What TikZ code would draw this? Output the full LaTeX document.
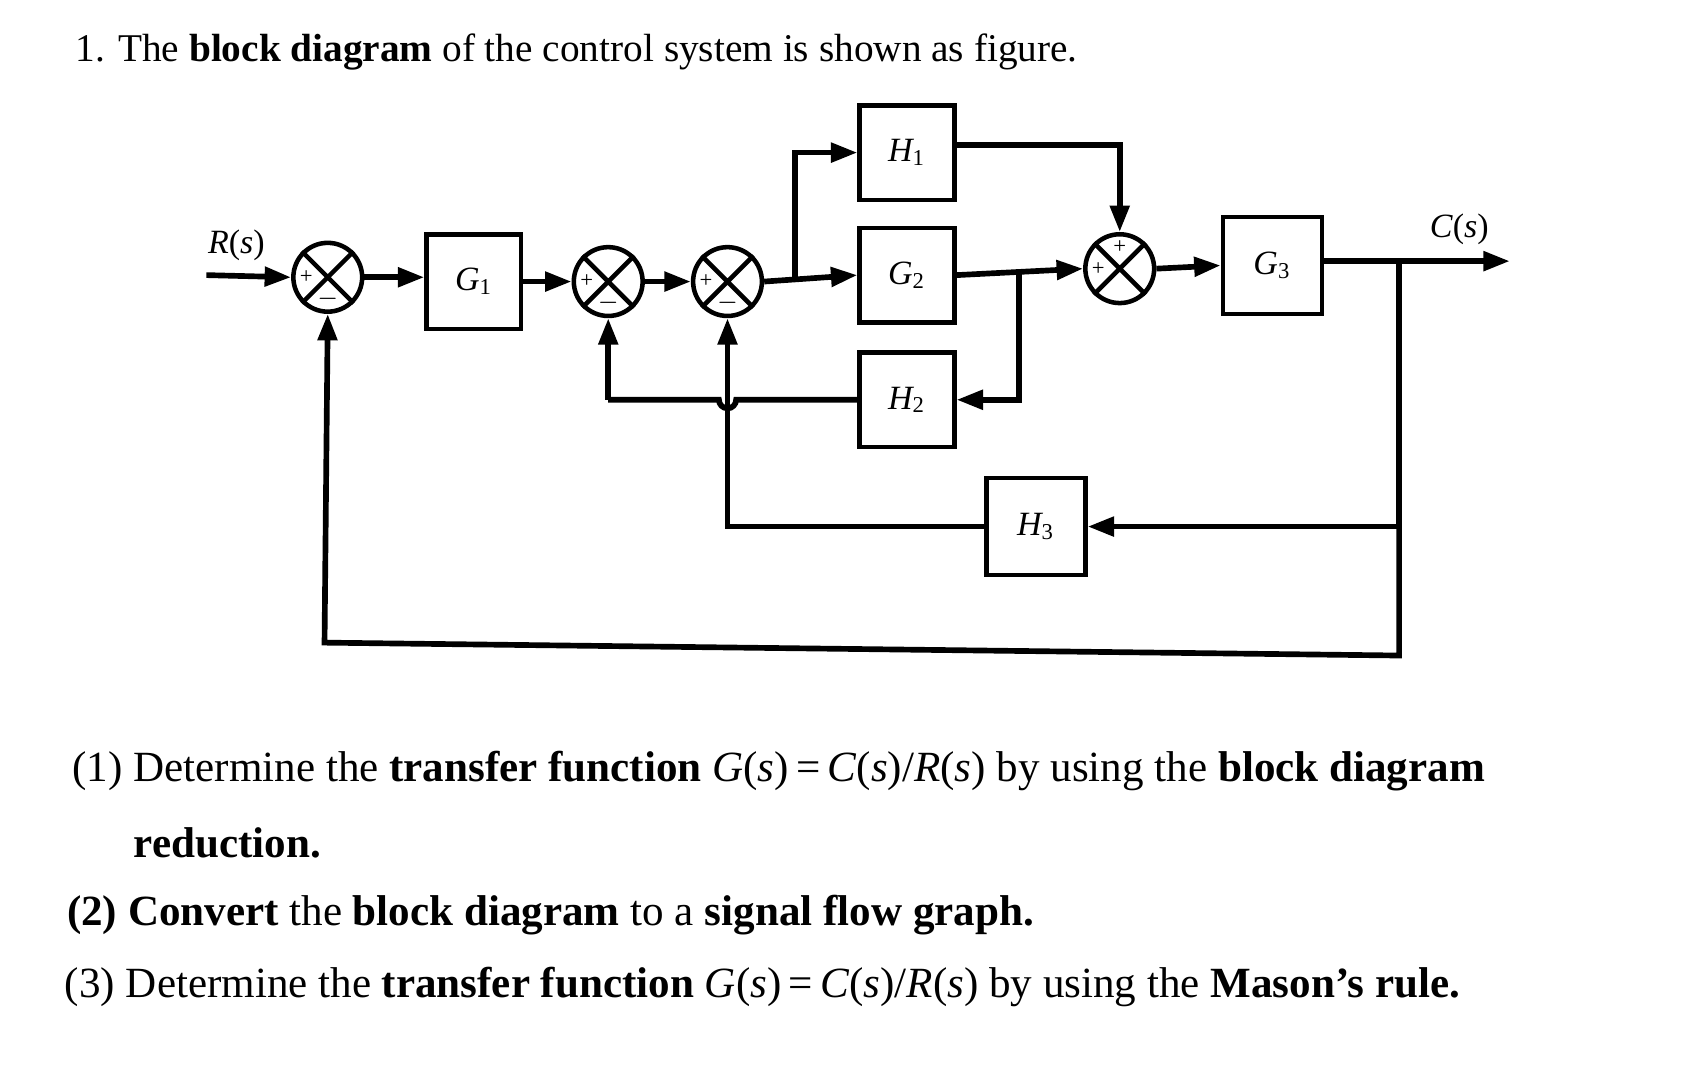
\documentclass[tikz,border=0pt]{standalone}
\usepackage{fontspec}
\setmainfont{Liberation Serif}
\usetikzlibrary{arrows.meta}
\newcommand{\fs}[1]{\textit{#1}(\textit{s})}
\begin{document}
\begin{tikzpicture}[x=0.01cm,y=-0.01cm,
  sig/.style={line width=1.5pt,-{Triangle[length=7pt,width=5pt]}},
  ln/.style={line width=1.5pt},
  blk/.style={draw,line width=1.2pt,minimum width=0.88cm,minimum height=0.88cm,inner sep=0pt,font=\fontsize{9}{11}\selectfont\itshape},
  sumj/.style={draw,line width=1.2pt,circle,minimum size=0.64cm,inner sep=0pt},
  sg/.style={font=\fontsize{6}{7}\selectfont,inner sep=0pt}]
\useasboundingbox (0,0) rectangle (1568,1005);
\fill[white] (0,0) rectangle (1568,1005);
\node[anchor=west,font=\fontsize{10.4}{12}\selectfont] (title) at (58,48) {1. The \textbf{block diagram} of the control system is shown as figure.};
% summers
\foreach \n/\x/\y in {s1/305/258,s2/566/262,s3/677/262,s4/1042/250}{
  \node[sumj] (\n) at (\x,\y) {};
  \draw[line width=1.2pt] (\n.north west)--(\n.south east) (\n.north east)--(\n.south west);}
\node[sg] at ([xshift=-0.2cm]s1.center) {+};
\node[sg] at ([yshift=-0.2cm]s1.center) {$-$};
\node[sg] at ([xshift=-0.2cm]s2.center) {+};
\node[sg] at ([yshift=-0.2cm]s2.center) {$-$};
\node[sg] at ([xshift=-0.2cm]s3.center) {+};
\node[sg] at ([yshift=-0.2cm]s3.center) {$-$};
\node[sg] at ([xshift=-0.2cm]s4.center) {+};
\node[sg] at ([yshift=0.2cm]s4.center) {+};
% blocks
\node[blk] (G1) at (441,262) {G\textsubscript{\upshape 1}};
\node[blk] (H1) at (844,142) {H\textsubscript{\upshape 1}};
\node[blk] (G2) at (844,256) {G\textsubscript{\upshape 2}};
\node[blk] (H2) at (844,372) {H\textsubscript{\upshape 2}};
\node[blk,minimum width=0.92cm,minimum height=0.9cm] (G3) at (1184,247) {G\textsubscript{\upshape 3}};
\node[blk,minimum width=0.92cm,minimum height=0.9cm] (H3) at (964,490) {H\textsubscript{\upshape 3}};
% labels
\node[font=\fontsize{9}{11}\selectfont] (R) at (220,228) {\fs{R}};
\node[font=\fontsize{9}{11}\selectfont] (C) at (1358,213) {\fs{C}};
\coordinate (rin) at (192,256);
\coordinate (cout) at (1405,243);
\coordinate (b1) at (740,259);
\coordinate (b2) at (948,255);
\coordinate (b3) at (1302,243);
% forward
\draw[sig] (rin) -- (s1.west);
\draw[sig] (s1.east) -- (G1.west |- s1.east);
\draw[sig] (G1.east) -- (s2.west);
\draw[sig] (s2.east) -- (s3.west);
\draw[sig] (s3.east) -- (G2.west);
\draw[sig] (b1) |- (H1.west);
\draw[sig] (H1.east |- 0,135) -| (s4.north);
\draw[sig] (G2.east) -- (s4.west);
\draw[sig] (s4.east) -- (G3.west);
\draw[sig] (G3.east |- cout) -- (cout);
% feedback H2
\draw[sig] (b2) |- (H2.east);
\draw[ln] (H2.west) -- (685,372) arc (0:180:8) -- (566,372);
\draw[sig] (566,372) -- (s2.south);
% feedback H3
\draw[sig] (b3) |- (H3.east);
\draw[sig] (H3.west) -| (s3.south);
% outer
\draw[sig] (b3) -- (1302,610) -- (302,598) -- (s1.south);
% questions
\begin{scope}[font=\fontsize{11.4}{14}\selectfont]
\node[anchor=west] (q1) at (55,718) {(1) Determine the \textbf{transfer function} \fs{G}\,=\,\fs{C}/\fs{R} by using the \textbf{block diagram}};
\node[anchor=west] (q1b) at (112,784) {\textbf{reduction.}};
\node[anchor=west] (q2) at (50,852) {\textbf{(2) Convert} the \textbf{block diagram} to a \textbf{signal flow graph.}};
\node[anchor=west] (q3) at (48,918) {(3) Determine the \textbf{transfer function} \fs{G}\,=\,\fs{C}/\fs{R} by using the \textbf{Mason's rule.}};
\end{scope}
\end{tikzpicture}
\end{document}
